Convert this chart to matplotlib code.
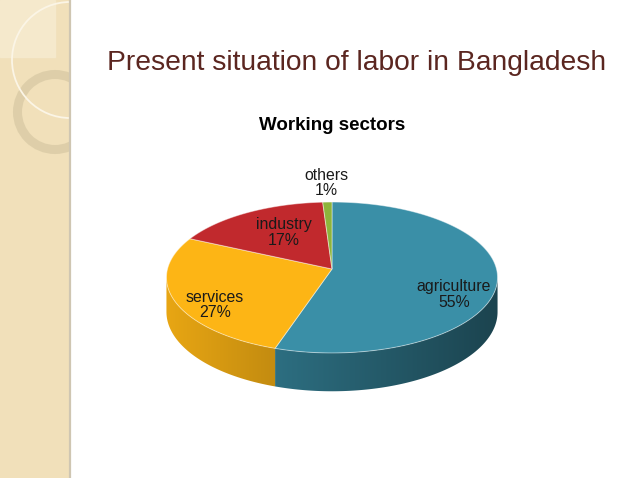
import numpy as np
import matplotlib.pyplot as plt
from matplotlib.patches import Polygon, Rectangle, Circle
from matplotlib.colors import to_rgb

plt.rcParams['font.family'] = ['Liberation Sans', 'DejaVu Sans']

# data
title = "Present situation of labor in Bangladesh"
chart_title = "Working sectors"
sectors = ["agriculture", "services", "industry", "others"]
shares = [55, 27, 17, 1]
colors = ["#3A8FA7", "#FDB515", "#C1292D", "#8DB43B"]

# label placement (radius as fraction of pie, extra vertical offset in px)
label_r = [0.74, 0.75, 0.55, 1.33]
label_dy = [17, 13, -4, 0]

# pie geometry in pixel units (perspective disc)
CX, CY = 332, 269
A, B, K = 164.5, 74.5, 0.1126
DEPTH = 34


def project(theta, drop=0.0):
    u = np.sin(theta)
    v = np.cos(theta)
    w = 1 + K * v
    return CX + A * u / w, CY - B * v / w + drop / w


fig = plt.figure(figsize=(6.38, 4.78), dpi=100)
ax = fig.add_axes([0, 0, 1, 1])
ax.set_xlim(0, 638)
ax.set_ylim(478, 0)
ax.axis('off')

# left decorative strip
ax.add_patch(Rectangle((0, 0), 70, 478, color="#F1E0BA", zorder=0))
ax.add_patch(Rectangle((0, 0), 55, 57, color="#F5E9CC", zorder=0.5))
ax.add_patch(Circle((55, 112), 37.5, fill=False, lw=6.5, ec="#DCCDA8", alpha=0.9, zorder=1))
ax.add_patch(Circle((70, 60), 58, fill=False, lw=1.3, ec="#FBF5E6", zorder=1.2))
ax.add_patch(Rectangle((70, 0), 568, 478, color="white", zorder=1.4))
ax.plot([70, 70], [0, 478], color="#CFC6B2", lw=1.6, zorder=1.5)

ax.text(356.5, 70, title, fontsize=20.3, color="#5B2620", ha='center', va='baseline', zorder=5)
ax.text(332.5, 130, chart_title, fontsize=13.5, fontweight='bold', ha='center', va='baseline',
        zorder=5)

# slice angles, clockwise from 12 o'clock
bounds = np.radians(np.concatenate([[0], np.cumsum(shares)]) * 360 / sum(shares))

# side walls, shaded darker toward the right
th_lo = np.pi / 2 + np.arcsin(K)
th_hi = 3 * np.pi / 2 - np.arcsin(K)
xmin, xmax = CX - A / np.sqrt(1 - K ** 2), CX + A / np.sqrt(1 - K ** 2)
for i, col in enumerate(colors):
    t0, t1 = max(bounds[i], th_lo), min(bounds[i + 1], th_hi)
    if t1 <= t0:
        continue
    ts = np.linspace(t0, t1, 200)
    xt, yt = project(ts)
    xb, yb = project(ts[::-1], DEPTH)
    pts = list(zip(xt, yt)) + list(zip(xb, yb))
    poly = Polygon(pts, closed=True, fc='none', ec='none', zorder=2)
    ax.add_patch(poly)
    base = np.array(to_rgb(col))
    f = np.linspace(0, 1, 400)
    grad = np.clip(base[None, :] * (0.92 - 0.45 * f)[:, None], 0, 1)
    img = np.repeat(grad[None, :, :], 2, axis=0)
    im = ax.imshow(img, extent=(xmin - 2, xmax + 2, CY + 180, CY - 100), aspect='auto',
                   interpolation='bilinear', zorder=2)
    im.set_clip_path(poly)

# top face
for i, col in enumerate(colors):
    ts = np.linspace(bounds[i], bounds[i + 1], 200)
    xs, ys = project(ts)
    pts = [(CX, CY)] + list(zip(xs, ys))
    ax.add_patch(Polygon(pts, closed=True, fc=col, ec=(1, 1, 1, 0.45), lw=0.7, zorder=3))

# labels
for i, name in enumerate(sectors):
    mid = (bounds[i] + bounds[i + 1]) / 2
    u = label_r[i] * np.sin(mid)
    v = label_r[i] * np.cos(mid)
    w = 1 + K * v
    lx = CX + A * u / w
    ly = CY - B * v / w + label_dy[i]
    ax.text(lx, ly, f"{name}\n{shares[i]}%", fontsize=11.4, ha='center', va='center',
            linespacing=1.05, color="#1A1A1A", zorder=4)

ax.set_xlim(0, 638)
ax.set_ylim(478, 0)
fig.savefig("out.png", dpi=100)
